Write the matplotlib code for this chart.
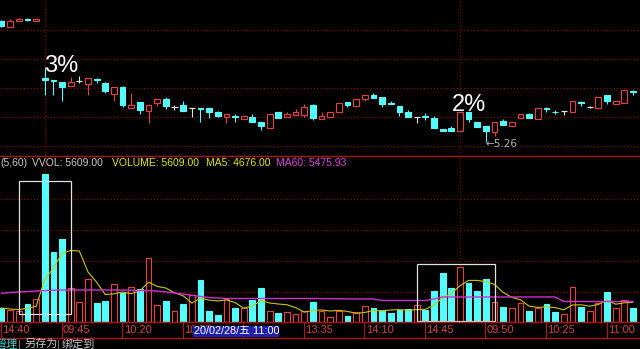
import numpy as np
import pandas as pd
import matplotlib
matplotlib.use("Agg")
import matplotlib.pyplot as plt
from matplotlib.lines import Line2D
from matplotlib.patches import Rectangle
from matplotlib.transforms import Bbox, TransformedBbox

# 5-minute bars, 14:40 on 02/27 through 11:00 on 03/02
opens = [5.502, 5.490, 5.502, 5.506, 5.502, 5.388, 5.384, 5.380, 5.372, 5.382,
         5.376, 5.386, 5.378, 5.356, 5.370, 5.328, 5.340, 5.322, 5.338, 5.346,
         5.330, 5.334, 5.328, 5.328, 5.328, 5.320, 5.310, 5.312, 5.306, 5.310,
         5.300, 5.288, 5.320, 5.310, 5.314, 5.314, 5.334, 5.306, 5.310, 5.320,
         5.340, 5.332, 5.346, 5.354, 5.350, 5.338, 5.332, 5.320, 5.310, 5.312,
         5.308, 5.286, 5.288, 5.282, 5.320, 5.300, 5.292, 5.280, 5.302, 5.292,
         5.308, 5.316, 5.306, 5.327, 5.320, 5.322, 5.320, 5.339, 5.330, 5.328,
         5.354, 5.336, 5.338, 5.361]
highs = [5.504, 5.506, 5.508, 5.508, 5.506, 5.410, 5.384, 5.380, 5.390, 5.392,
         5.388, 5.388, 5.380, 5.370, 5.372, 5.358, 5.340, 5.334, 5.346, 5.350,
         5.334, 5.342, 5.328, 5.328, 5.328, 5.322, 5.316, 5.316, 5.312, 5.316,
         5.300, 5.316, 5.320, 5.320, 5.326, 5.336, 5.336, 5.320, 5.320, 5.338,
         5.340, 5.346, 5.354, 5.358, 5.350, 5.342, 5.332, 5.324, 5.310, 5.318,
         5.312, 5.286, 5.292, 5.320, 5.320, 5.300, 5.292, 5.300, 5.306, 5.300,
         5.316, 5.318, 5.328, 5.330, 5.324, 5.322, 5.342, 5.342, 5.332, 5.350,
         5.354, 5.342, 5.364, 5.364]
lows = [5.490, 5.490, 5.502, 5.502, 5.502, 5.354, 5.354, 5.342, 5.372, 5.378,
        5.354, 5.378, 5.358, 5.342, 5.330, 5.328, 5.316, 5.298, 5.332, 5.326,
        5.324, 5.322, 5.310, 5.300, 5.308, 5.310, 5.298, 5.300, 5.306, 5.300,
        5.284, 5.288, 5.308, 5.310, 5.314, 5.310, 5.304, 5.306, 5.310, 5.320,
        5.330, 5.332, 5.342, 5.348, 5.330, 5.336, 5.312, 5.310, 5.298, 5.304,
        5.288, 5.282, 5.282, 5.282, 5.300, 5.290, 5.260, 5.272, 5.294, 5.292,
        5.308, 5.308, 5.306, 5.320, 5.316, 5.314, 5.320, 5.332, 5.328, 5.328,
        5.336, 5.336, 5.338, 5.354]
closes = [5.492, 5.502, 5.506, 5.504, 5.506, 5.384, 5.382, 5.370, 5.380, 5.382,
          5.388, 5.384, 5.362, 5.370, 5.334, 5.334, 5.324, 5.334, 5.346, 5.332,
          5.330, 5.322, 5.328, 5.326, 5.320, 5.312, 5.316, 5.310, 5.312, 5.300,
          5.292, 5.316, 5.308, 5.316, 5.320, 5.330, 5.308, 5.312, 5.320, 5.338,
          5.334, 5.346, 5.354, 5.348, 5.336, 5.336, 5.320, 5.310, 5.310, 5.310,
          5.288, 5.282, 5.282, 5.320, 5.306, 5.290, 5.282, 5.300, 5.294, 5.300,
          5.316, 5.308, 5.328, 5.326, 5.319, 5.322, 5.342, 5.338, 5.330, 5.350,
          5.342, 5.342, 5.364, 5.360]
volumes = [2870, 2460, 2255, 3690, 4715, 30340, 14350, 17015, 6970, 4100,
           8815, 3895, 4305, 7790, 5945, 7175, 6765, 13120, 3485, 4305,
           2255, 3690, 5609, 8610, 2255, 1435, 4715, 2870, 2870, 4510,
           6970, 2255, 1845, 2050, 1640, 2255, 4100, 2255, 1025, 2255,
           1230, 2050, 3280, 2870, 2255, 1845, 2460, 2665, 3485, 2460,
           6355, 10045, 6970, 11275, 7995, 6355, 8815, 4100, 3075, 2870,
           3895, 2255, 2870, 3690, 2050, 1640, 7175, 3075, 2255, 3895,
           6150, 2870, 4510, 2870]
ma60 = [5880, 6050, 6150, 6250, 6360, 6420, 6540, 6560, 6560, 6560,
        6560, 6560, 6560, 6560, 6540, 6520, 6460, 6440, 6350, 6150,
        5950, 5740, 5476, 5250, 5020, 4920, 4840, 4820, 4820, 4820,
        4820, 4820, 4820, 4820, 4820, 4820, 4820, 4800, 4780, 4760,
        4740, 4720, 4720, 4720, 4410, 4410, 4410, 4410, 4410, 4410,
        4720, 5130, 5130, 5130, 5130, 5130, 5130, 5130, 5130, 5130,
        5130, 5130, 5130, 5130, 5130, 4200, 4200, 4200, 4200, 4200,
        4200, 4200, 4200, 4200]

# the 11:30 label sits fully under the date box, so it is left out
tick_bars = [0, 7, 14, 21, 35, 42, 49, 56, 63, 70]
tick_labels = ["14:40", "09:45", "10:20", "10:55", "13:35",
               "14:10", "14:45", "09:50", "10:25", "11:00"]
tick_lines = [0, 7, 14, 21, 28, 35, 42, 49, 56, 63, 70]
day_starts = [5, 53]

RED = "#f03c3c"
CYAN = "#54fcfc"
GRID = "#8a0000"
W, H = 640, 349
FONT = "Liberation Sans"


def fy(py):
    return 1 - py / H


fig = plt.figure(figsize=(6.4, 3.49), dpi=100, facecolor="black")
ax_p = fig.add_axes([0, fy(156), 1, 156 / H])
ax_v = fig.add_axes([0, fy(322), 1, 166 / H])
for ax in (ax_p, ax_v):
    ax.set_facecolor("black")
    ax.set_xlim(-0.173, 73.815)
    ax.axis("off")
ax_p.set_ylim(5.232, 5.544)
ax_v.set_ylim(0, 34030)

# dotted grid and day separators
for p in [5.484, 5.426, 5.368, 5.310, 5.252]:
    ax_p.axhline(p, color=GRID, lw=0.8, ls=(0, (1, 2)), zorder=0)
for v in [6150, 12505, 18860, 25215]:
    ax_v.axhline(v, color=GRID, lw=0.8, ls=(0, (1, 2)), zorder=0)
for d in day_starts:
    ax_p.axvline(d, color=GRID, lw=0.8, ls=(0, (1, 2)), zorder=0)
    ax_v.axvline(d, color=GRID, lw=0.8, ls=(0, (1, 2)), zorder=0)

x = np.arange(len(opens))
o, hi, lo, c = map(np.array, (opens, highs, lows, closes))
up = c > o
down = c < o
flat = c == o
wick_col = np.where(up, RED, np.where(down, CYAN, "#e0e0e0"))

# candles
ax_p.vlines(x, lo, hi, colors=wick_col, lw=0.8, zorder=1)
ax_p.bar(x[up], (c - o)[up], bottom=o[up], width=0.66, facecolor="black",
         edgecolor=RED, lw=0.8, zorder=2)
ax_p.bar(x[down], (o - c)[down], bottom=c[down], width=0.66, facecolor=CYAN,
         edgecolor=CYAN, lw=0.8, zorder=2)
ax_p.hlines(o[flat], x[flat] - 0.36, x[flat] + 0.36, colors="#e0e0e0", lw=0.9, zorder=2)

ax_p.text(4.9, 5.400, "3%", color="white", fontsize=17, family=FONT, va="baseline", ha="left")
ax_p.text(52.1, 5.322, "2%", color="white", fontsize=17, family=FONT, va="baseline", ha="left")
ax_p.text(56, lows[56] - 0.004, "\u21905.26", color="#b8b8b8", fontsize=7.5,
          family=["DejaVu Sans"], va="center", ha="left")

# volume bars and averages
vol = np.array(volumes)
vup = c >= o
ax_v.bar(x[vup], vol[vup], width=0.66, facecolor="black", edgecolor=RED, lw=0.8, zorder=2)
ax_v.bar(x[~vup], vol[~vup], width=0.66, facecolor=CYAN, edgecolor=CYAN, lw=0.8, zorder=2)
ma5 = pd.Series(vol).rolling(5, min_periods=1).mean()
ax_v.plot(x, ma5, color="#c8c800", lw=0.8, zorder=3)
ax_v.plot(x, ma60, color="#d030d0", lw=1.0, zorder=3)

for a, b, top, bot in [(2, 8, 28905, 1640), (48, 57, 11890, 205)]:
    ax_v.add_patch(Rectangle((a, bot), b - a, top - bot, fill=False,
                             edgecolor="#e0e0e0", lw=0.9, zorder=4))

# header text of volume panel
hy = fy(163)
fig.text(0 / W, hy, "(5,60)", color="#c8c8c8", fontsize=7.5, family=FONT, va="center")
fig.text(32 / W, hy, "VVOL: 5609.00", color="#c8c8c8", fontsize=7.5, family=FONT, va="center")
fig.text(112 / W, hy, "VOLUME: 5609.00", color="#e6e600", fontsize=7.5, family=FONT, va="center")
fig.text(206 / W, hy, "MA5: 4676.00", color="#e6e600", fontsize=7.5, family=FONT, va="center")
fig.text(276 / W, hy, "MA60: 5475.93", color="#e040e0", fontsize=7.5, family=FONT, va="center")

# frame lines
for py in (156, 322, 338):
    fig.add_artist(Line2D([0, 1], [fy(py), fy(py)], color="#b01414", lw=1.0))

# time axis
for b in tick_lines:
    px = 1.0 + 8.65 * b
    fig.add_artist(Line2D([px / W, px / W], [fy(322), fy(338)], color="#b01414", lw=0.8))
box_clip = TransformedBbox(Bbox([[0, 0], [193 / W, 1]]), fig.transFigure)
for b, lab in zip(tick_bars, tick_labels):
    px = 1.0 + 8.65 * b
    t = fig.text((px + 1.5) / W, fy(330), lab, color="#d04040", fontsize=8, family=FONT,
                 va="center", ha="left")
    if 185 < px < 280:
        t.set_clip_box(box_clip)
        t.set_clip_on(True)

fig.add_artist(Rectangle((193 / W, fy(337)), 86 / W, 11 / H, transform=fig.transFigure,
                         facecolor="#2020a8", edgecolor="none", zorder=10))
fig.text(194 / W, fy(331.5), "20/02/28/五 11:00", color="white", fontsize=7.8,
         family=[FONT, "Noto Sans CJK SC"], va="center", ha="left", zorder=11)

# toolbar strip at the bottom
fig.text(-4 / W, fy(339), "管理", color="#40d0d0", fontsize=8, family="Noto Sans CJK SC", va="top")
fig.text(24 / W, fy(339), "另存为", color="#c8c8c8", fontsize=8, family="Noto Sans CJK SC", va="top")
fig.text(62 / W, fy(339), "绑定到", color="#c8c8c8", fontsize=8, family="Noto Sans CJK SC", va="top")
for px in (19, 58):
    fig.add_artist(Line2D([px / W, px / W], [fy(340), 0], color="#707070", lw=0.8))

fig.savefig("out.png", dpi=100, facecolor="black")
